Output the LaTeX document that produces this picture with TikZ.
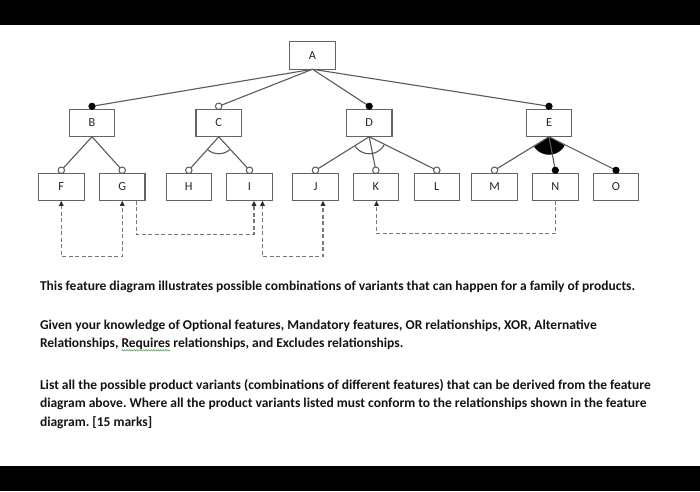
\documentclass[tikz,border=0pt]{standalone}
\usepackage{fontspec}
\setmainfont{Carlito}
\usetikzlibrary{calc,arrows.meta,decorations.pathmorphing}
\definecolor{boxgray}{RGB}{100,100,100}
\definecolor{linegray}{RGB}{90,90,90}
\definecolor{dashgray}{RGB}{120,120,120}
\definecolor{tipgray}{RGB}{45,45,45}
\definecolor{textdark}{RGB}{20,20,20}
\definecolor{squiggle}{RGB}{95,170,95}
\frenchspacing
\begin{document}
\begin{tikzpicture}[x=1pt,y=-1pt,
  feat/.style={draw=boxgray, line width=1.1pt, minimum width=45.5pt, minimum height=27.5pt,
    inner sep=0pt, outer sep=0pt, font=\fontsize{12.3}{14}\selectfont, text=black!85},
  link/.style={draw=linegray, line width=1.1pt},
  manddot/.style={circle, fill=black, draw=black, inner sep=0pt, minimum size=6.5pt, line width=0.6pt},
  optdot/.style={circle, fill=white, draw=linegray, inner sep=0pt, minimum size=6.5pt, line width=1pt},
  dep/.style={draw=dashgray, line width=1.1pt, dash pattern=on 4pt off 2.5pt},
  endtip/.style={-{Triangle[length=5pt,width=4.5pt,color=tipgray]}},
  bothtips/.style={{Triangle[length=5pt,width=4.5pt,color=tipgray]}-{Triangle[length=5pt,width=4.5pt,color=tipgray]}},
  txt/.style={anchor=base west, inner sep=0pt, outer sep=0pt, font=\fontsize{13.5}{16}\selectfont\bfseries, text=textdark}]
\useasboundingbox (0,0) rectangle (700,491);
\fill[black] (0,0) rectangle (700,25);
\fill[black] (0,466) rectangle (700,491);

% feature boxes
\node[feat] (A) at (312.5,55.5) {A};
\node[feat] (B) at (92,123) {B};
\node[feat] (C) at (218.7,123) {C};
\node[feat] (D) at (369.2,123) {D};
\node[feat] (E) at (549,123) {E};
\node[feat] (F) at (61.3,187) {F};
\node[feat] (G) at (122.2,187) {G};
\node[feat] (H) at (188.8,187) {H};
\node[feat] (I) at (249.5,187) {I};
\node[feat] (J) at (315.5,187) {J};
\node[feat] (K) at (375.8,187) {K};
\node[feat] (L) at (436.8,187) {L};
\node[feat] (M) at (494.5,187) {M};
\node[feat] (N) at (555.3,187) {N};
\node[feat] (O) at (616,187) {O};

% group arcs
\begin{scope}
  \clip (C.south) -- ($(C.south)!4!(H.north)$) -- ($(C.south)!4!(I.north)$) -- cycle;
  \draw[link] (C.south) circle[radius=17pt];
\end{scope}
\begin{scope}
  \clip (D.south) -- ($(D.south)!4!(J.north)$) -- ($(D.south)!4!(L.north)$) -- cycle;
  \draw[link] (D.south) circle[radius=17pt];
\end{scope}
\begin{scope}
  \clip (E.south) -- ($(E.south)!4!(M.north)$) -- ($(E.south)!4!(O.north)$) -- cycle;
  \fill[black] (E.south) circle[radius=18pt];
\end{scope}

% connectors to children
\draw[link] (A.south) -- ($(B.north)+(0,-3)$);
\draw[link] (A.south) -- ($(C.north)+(0,-3)$);
\draw[link] (A.south) -- ($(D.north)+(0,-3)$);
\draw[link] (A.south) -- ($(E.north)+(0,-3)$);
\draw[link] (B.south) -- ($(F.north)+(0,-3)$);
\draw[link] (B.south) -- ($(G.north)+(0,-3)$);
\draw[link] (C.south) -- ($(H.north)+(0,-3)$);
\draw[link] (C.south) -- ($(I.north)+(0,-3)$);
\draw[link] (D.south) -- ($(J.north)+(0,-3)$);
\draw[link] (D.south) -- ($(K.north)+(0,-3)$);
\draw[link] (D.south) -- ($(L.north)+(0,-3)$);
\draw[link] (E.south) -- ($(M.north)+(0,-3)$);
\draw[link] (E.south) -- ($(N.north)+(0,-3)$);
\draw[link] (E.south) -- ($(O.north)+(0,-3)$);

% mandatory / optional markers
\node[manddot] (dB) at ($(B.north)+(0,-3)$) {};
\node[optdot]  (dC) at ($(C.north)+(0,-3)$) {};
\node[manddot] (dD) at ($(D.north)+(0,-3)$) {};
\node[manddot] (dE) at ($(E.north)+(0,-3)$) {};
\node[optdot]  (dF) at ($(F.north)+(0,-3)$) {};
\node[optdot]  (dG) at ($(G.north)+(0,-3)$) {};
\node[optdot]  (dH) at ($(H.north)+(0,-3)$) {};
\node[optdot]  (dI) at ($(I.north)+(0,-3)$) {};
\node[optdot]  (dJ) at ($(J.north)+(0,-3)$) {};
\node[optdot]  (dK) at ($(K.north)+(0,-3)$) {};
\node[optdot]  (dL) at ($(L.north)+(0,-3)$) {};
\node[optdot]  (dM) at ($(M.north)+(0,-3)$) {};
\node[manddot] (dN) at ($(N.north)+(0,-3)$) {};
\node[manddot] (dO) at ($(O.north)+(0,-3)$) {};

% requires / excludes
\draw[dep, bothtips] (F.south) -- ++(0,55.75) -| (G.south);
\draw[dep, endtip] ($(G.south)+(14,0)$) -- ++(0,33.5) -| ($(I.south)+(4.5,0)$);
\draw[dep, bothtips] ($(I.south)+(13,0)$) -- ++(0,55.75) -| ($(J.south)+(7.5,0)$);
\draw[dep, endtip] (N.south) -- ++(0,32.75) -| ($(K.south)+(0.7,0)$);

% text
\node[txt] (t1) at (40,290.5) {This feature diagram illustrates possible combinations of variants that can happen for a family of products.};
\node[txt] (t2) at (40,329) {Given your knowledge of Optional features, Mandatory features, OR relationships, XOR, Alternative};
\node[txt] (t3a) at (40,347.7) {Relationships,\ \mbox{}};
\node[txt] (t3b) at (t3a.base east) {Requires};
\node[txt] (t3c) at (t3b.base east) {\mbox{}\ relationships, and Excludes relationships.};
\draw[draw=squiggle, line width=0.6pt, decorate, decoration={snake, amplitude=0.7pt, segment length=2.4pt}]
  ($(t3b.base west)+(0,2.6)$) -- ($(t3b.base east)+(0,2.6)$);
\node[txt] (t4) at (40,389) {List all the possible product variants (combinations of different features) that can be derived from the feature};
\node[txt] (t5) at (40,407.7) {diagram above. Where all the product variants listed must conform to the relationships shown in the feature};
\node[txt] (t6) at (40,426.4) {diagram. [15 marks]};
\end{tikzpicture}
\end{document}
